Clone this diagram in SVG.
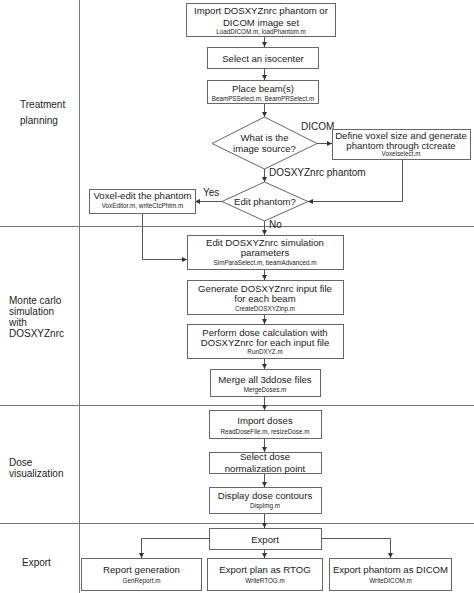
<svg xmlns="http://www.w3.org/2000/svg" width="474" height="593" viewBox="0 0 474 593">
<style>
  text { font-family: "Liberation Sans", Arial, sans-serif; fill: #222; }
  .t { font-size: 9.6px; text-anchor: middle; }
  .s { font-size: 6.3px; text-anchor: middle; }
  .lab { font-size: 10px; }
  .box { fill: #fff; stroke: #666; stroke-width: 1; }
  .ln { fill: none; stroke: #555; stroke-width: 1; }
  .div { fill: none; stroke: #777; stroke-width: 1; }
</style>
<defs>
  <marker id="ah" viewBox="0 0 6 6" refX="6" refY="3" markerWidth="5" markerHeight="5" orient="auto" markerUnits="userSpaceOnUse">
    <path d="M0,0 L6,3 L0,6 z" fill="#333"/>
  </marker>
</defs>
<rect width="474" height="593" fill="#fff"/>

<g id="lanes">
  <line class="div" x1="79.5" y1="0" x2="79.5" y2="593"/>
  <line class="div" x1="0" y1="226.5" x2="474" y2="226.5"/>
  <line class="div" x1="0" y1="405.5" x2="474" y2="405.5"/>
  <line class="div" x1="0" y1="523.5" x2="474" y2="523.5"/>
  <text class="lab" x="20" y="108">Treatment</text>
  <text class="lab" x="20" y="124">planning</text>
  <text class="lab" x="9" y="303.5">Monte carlo</text>
  <text class="lab" x="9" y="314.5">simulation</text>
  <text class="lab" x="9" y="325.5">with</text>
  <text class="lab" x="9" y="336.5">DOSXYZnrc</text>
  <text class="lab" x="9" y="465.5">Dose</text>
  <text class="lab" x="9" y="476.5">visualization</text>
  <text class="lab" x="22" y="565.5">Export</text>
</g>

<g id="connectors">
  <line class="ln" x1="264.5" y1="37" x2="264.5" y2="47" marker-end="url(#ah)"/>
  <line class="ln" x1="264.5" y1="68" x2="264.5" y2="80" marker-end="url(#ah)"/>
  <line class="ln" x1="264.5" y1="103" x2="264.5" y2="117" marker-end="url(#ah)"/>
  <line class="ln" x1="317" y1="143.5" x2="332" y2="143.5" marker-end="url(#ah)"/>
  <line class="ln" x1="264.5" y1="169" x2="264.5" y2="182" marker-end="url(#ah)"/>
  <polyline class="ln" points="402.5,159 402.5,201.5 308,201.5" marker-end="url(#ah)"/>
  <line class="ln" x1="222" y1="201.5" x2="195" y2="201.5" marker-end="url(#ah)"/>
  <polyline class="ln" points="142.5,213 142.5,259.5 187,259.5" marker-end="url(#ah)"/>
  <line class="ln" x1="264.5" y1="221" x2="264.5" y2="235" marker-end="url(#ah)"/>
  <line class="ln" x1="264.5" y1="269" x2="264.5" y2="280" marker-end="url(#ah)"/>
  <line class="ln" x1="264.5" y1="314" x2="264.5" y2="324" marker-end="url(#ah)"/>
  <line class="ln" x1="264.5" y1="358" x2="264.5" y2="369" marker-end="url(#ah)"/>
  <line class="ln" x1="264.5" y1="396" x2="264.5" y2="410" marker-end="url(#ah)"/>
  <line class="ln" x1="264.5" y1="438" x2="264.5" y2="452" marker-end="url(#ah)"/>
  <line class="ln" x1="264.5" y1="473" x2="264.5" y2="487" marker-end="url(#ah)"/>
  <line class="ln" x1="264.5" y1="513" x2="264.5" y2="528" marker-end="url(#ah)"/>
  <line class="ln" x1="264.5" y1="549" x2="264.5" y2="558" marker-end="url(#ah)"/>
  <polyline class="ln" points="209,538.5 141.5,538.5 141.5,558" marker-end="url(#ah)"/>
  <polyline class="ln" points="321,538.5 390.5,538.5 390.5,558" marker-end="url(#ah)"/>
  <text class="lab" x="301" y="130">DICOM</text>
  <text class="lab" x="269" y="176">DOSXYZnrc phantom</text>
  <text class="lab" x="203" y="196">Yes</text>
  <text class="lab" x="269" y="228">No</text>
</g>

<g id="import">
  <rect class="box" x="186.5" y="3.5" width="149" height="33"/>
  <text class="t" x="261" y="14">Import DOSXYZnrc phantom or</text>
  <text class="t" x="261" y="26">DICOM image set</text>
  <text class="s" x="261" y="34">LoadDICOM.m, loadPhantom.m</text>
</g>
<g id="isocenter">
  <rect class="box" x="207.5" y="47.5" width="111" height="21"/>
  <text class="t" x="263" y="61.5">Select an isocenter</text>
</g>
<g id="beams">
  <rect class="box" x="207.5" y="80.5" width="111" height="23"/>
  <text class="t" x="263" y="92">Place beam(s)</text>
  <text class="s" x="263" y="100.5">BeamPSSelect.m, BeamPRSelect.m</text>
</g>
<g id="source">
  <polygon class="box" points="264.5,117 317,143.5 264.5,169 212,143.5"/>
  <text class="t" x="264.5" y="140.5">What is the</text>
  <text class="t" x="264.5" y="152">image source?</text>
</g>
<g id="voxelsize">
  <rect class="box" x="332.5" y="129.5" width="138" height="30"/>
  <text class="t" x="401" y="138.5">Define voxel size and generate</text>
  <text class="t" x="401" y="148.5">phantom through ctcreate</text>
  <text class="s" x="401" y="156">Voxelselect.m</text>
</g>
<g id="editphantom">
  <polygon class="box" points="264.5,182 308,201.5 264.5,221 222,201.5"/>
  <text class="t" x="265" y="205">Edit phantom?</text>
</g>
<g id="voxeledit">
  <rect class="box" x="89.5" y="189.5" width="106" height="24"/>
  <text class="t" x="142.5" y="199">Voxel-edit the phantom</text>
  <text class="s" x="142.5" y="207.5">VoxEditor.m, writeCtcPhtm.m</text>
</g>
<g id="simparams">
  <rect class="box" x="187.5" y="235.5" width="156" height="34"/>
  <text class="t" x="265" y="245.5">Edit DOSXYZnrc simulation</text>
  <text class="t" x="265" y="256">parameters</text>
  <text class="s" x="265" y="265">SimParaSelect.m, beamAdvanced.m</text>
</g>
<g id="inputfile">
  <rect class="box" x="187.5" y="280.5" width="156" height="34"/>
  <text class="t" x="265" y="291.5">Generate DOSXYZnrc input file</text>
  <text class="t" x="265" y="301.5">for each beam</text>
  <text class="s" x="265" y="310.5">CreateDOSXYZinp.m</text>
</g>
<g id="dosecalc">
  <rect class="box" x="187.5" y="324.5" width="156" height="34"/>
  <text class="t" x="265" y="335.5">Perform dose calculation with</text>
  <text class="t" x="265" y="345.5">DOSXYZnrc for each input file</text>
  <text class="s" x="265" y="354">RunDXYZ.m</text>
</g>
<g id="merge">
  <rect class="box" x="210.5" y="369.5" width="110" height="27"/>
  <text class="t" x="265" y="382.5">Merge all 3ddose files</text>
  <text class="s" x="265" y="391.5">MergeDoses.m</text>
</g>
<g id="importdoses">
  <rect class="box" x="209.5" y="410.5" width="112" height="28"/>
  <text class="t" x="265" y="423.5">Import doses</text>
  <text class="s" x="265" y="433.5">ReadDoseFile.m, resizeDose.m</text>
</g>
<g id="normpoint">
  <rect class="box" x="209.5" y="452.5" width="112" height="21"/>
  <text class="t" x="265" y="460">Select dose</text>
  <text class="t" x="265" y="471.5">normalization point</text>
</g>
<g id="contours">
  <rect class="box" x="209.5" y="487.5" width="112" height="26"/>
  <text class="t" x="265" y="498.5">Display dose contours</text>
  <text class="s" x="265" y="507.5">DispImg.m</text>
</g>
<g id="export">
  <rect class="box" x="209.5" y="528.5" width="112" height="21"/>
  <text class="t" x="265" y="542.5">Export</text>
</g>
<g id="report">
  <rect class="box" x="81.5" y="558.5" width="120" height="32"/>
  <text class="t" x="141.5" y="572.5">Report generation</text>
  <text class="s" x="141.5" y="582.5">GenReport.m</text>
</g>
<g id="rtog">
  <rect class="box" x="207.5" y="558.5" width="115" height="32"/>
  <text class="t" x="265" y="572.5">Export plan as RTOG</text>
  <text class="s" x="265" y="582.5">WriteRTOG.m</text>
</g>
<g id="dicom">
  <rect class="box" x="329.5" y="558.5" width="122" height="32"/>
  <text class="t" x="390.5" y="572.5">Export phantom as DICOM</text>
  <text class="s" x="390.5" y="582.5">WriteDICOM.m</text>
</g>
</svg>
